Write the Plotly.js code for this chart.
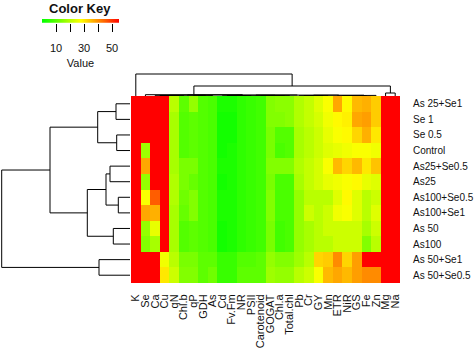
<!DOCTYPE html>
<html><head><meta charset="utf-8">
<script src="https://cdn.plot.ly/plotly-3.0.1.min.js"></script>
<style>html,body{margin:0;padding:0;background:#fff}#chart{width:474px;height:356px}</style>
</head><body><div id="chart"></div>
<script>
// ---- data ----
const columnLabels = ["K","Se","Ca","Cu","qN","Chl.b","qP","GDH","As","Cd","Fv.Fm","NR","PSII","Carotenoid","GOGAT","Chl.a","Total.chl","Pb","Cr","GY","Mn","ETR","NiR","GS","Fe","Zn","Mg","Na"];
const rowLabels = ["As 25+Se1","Se 1","Se 0.5","Control","As25+Se0.5","As25","As100+Se0.5","As100+Se1","As 50","As100","As 50+Se1","As 50+Se0.5"];
const r01 = [55,55,55,55,20,10,16,9,8,3,3,5,6,7,14,15,15,19,21,24,27,37,28,35,36,33,55,55];
const r02 = [55,55,55,55,18,9,10,9,8,2,2,5,6,7,14,14,15,19,21,23,26,28,29,37,38,33,55,55];
const r03 = [55,55,55,55,18,9,10,9,8,2,2,5,6,7,13,9,9,18,20,22,25,27,28,32,36,30,55,55];
const r04 = [55,17,55,55,18,9,10,9,8,2,3,5,6,7,13,8,9,18,20,22,24,25,26,27,27,26,55,55];
const r05 = [55,37,55,55,18,13,13,9,8,3,3,5,6,7,14,14,14,19,21,23,27,35,32,35,30,34,55,55];
const r06 = [55,16,55,55,19,13,11,9,8,2,3,5,6,7,13,8,8,18,21,23,25,26,27,28,25,24,55,55];
const r07 = [55,27,45,55,19,12,14,9,8,3,3,5,6,7,14,8,8,16,20,20,20,24,28,24,20,22,55,55];
const r08 = [55,37,36,55,18,11,14,9,8,3,3,5,6,7,14,8,8,16,22,20,22,26,27,24,20,24,55,55];
const r09 = [55,16,25,55,18,9,10,9,8,2,3,5,6,7,13,7,8,16,18,20,22,22,22,22,18,22,55,55];
const r10 = [55,14,18,55,18,9,10,9,8,2,3,5,6,7,13,7,8,16,18,20,20,22,22,22,14,20,55,55];
const r11 = [55,55,55,26,20,13,13,10,10,6,6,9,9,10,16,14,14,17,20,32,33,40,32,38,55,55,55,55];
const r12 = [55,55,55,30,22,14,14,10,12,6,6,10,10,10,17,16,16,20,22,27,35,37,35,38,40,40,55,55];
const keyTickVals = [10,20,30,40,50];
const keyTickText = ["10","","30","","50"];
// dendrograms (hclust style: negative = leaf, positive = earlier merge)
const rowMerge = [[-1,-2],[-3,-4],[1,2],[-5,-6],[-7,-8],[4,5],[-9,-10],[6,7],[3,8],[-11,-12],[9,10]];
const rowHeight = [14,13.3,32.3,20,11.7,24,16.7,42.7,80,31,128.3];
const colMerge = [[-3,-4],[-5,-6],[1,2],[-7,-8],[4,-9],[3,5],[-10,-11],[-12,-13],[7,8],[-14,-15],[-16,-17],[10,11],[9,12],[-18,-19],[-20,-21],[14,15],[-22,-23],[-24,-25],[17,18],[19,-26],[16,20],[13,21],[6,22],[-2,23],[-27,-28],[24,25],[-1,26]];
const colHeight = [0.3,0.3,0.5,0.3,0.4,0.7,0.2,0.3,0.5,0.3,0.3,0.5,0.7,0.3,0.3,0.5,0.3,0.3,0.5,0.6,0.8,0.9,1.0,1.3,3,10,22];

const zRows = [r01,r02,r03,r04,r05,r06,r07,r08,r09,r10,r11,r12];

function dendroSegments(merge, heights){
  const pos = [], h = [];
  const P = i => i < 0 ? -i : pos[i-1];
  const H = i => i < 0 ? 0 : h[i-1];
  const a = [], b = [];
  merge.forEach((m, k) => {
    const p1 = P(m[0]), p2 = P(m[1]), h1 = H(m[0]), h2 = H(m[1]), hh = heights[k];
    a.push(p1, p1, p2, p2, null);
    b.push(h1, hh, hh, h2, null);
    pos.push((p1 + p2) / 2); h.push(hh);
  });
  return {pos: a, hgt: b};
}
const rowD = dendroSegments(rowMerge, rowHeight);
const colD = dendroSegments(colMerge, colHeight);

const W = 474, H = 356;
const fx = p => p / W, fy = p => 1 - p / H;
const font = "Liberation Sans, Arial, sans-serif";
const cs = [[0,'#00FF00'],[0.5,'#FFFF00'],[1,'#FF0000']];
const colIdx = columnLabels.map((_, i) => i + 1);
const rowIdx = rowLabels.map((_, i) => i + 1);

const traces = [
  {type:'heatmap', x: colIdx, y: rowIdx, z: zRows, colorscale: cs, zmin: 0, zmax: 55,
   showscale: false, xaxis:'x', yaxis:'y', hoverinfo:'skip'},
  {type:'scatter', mode:'lines', x: rowD.hgt, y: rowD.pos, xaxis:'x2', yaxis:'y',
   line:{color:'#000', width:1}, hoverinfo:'skip', showlegend:false},
  {type:'scatter', mode:'lines', x: colD.pos, y: colD.hgt, xaxis:'x', yaxis:'y2',
   line:{color:'#000', width:1}, hoverinfo:'skip', showlegend:false},
  {type:'heatmap', x:[0,55], y:[-0.5,0.5], z:[[0,55],[0,55]], zsmooth:'best', colorscale: cs,
   zmin:0, zmax:55, showscale:false, xaxis:'x3', yaxis:'y3', hoverinfo:'skip'}
];

const layout = {
  width: W, height: H, margin:{l:0,r:0,t:0,b:0}, paper_bgcolor:'#fff', plot_bgcolor:'#fff',
  showlegend:false,
  font:{family: font, color:'#111'},
  xaxis:{domain:[fx(131), fx(400)], range:[0.5, 28.5], anchor:'y', tickmode:'array', tickvals: colIdx,
    ticktext: columnLabels, tickangle:-90, ticks:'outside', ticklen:6, tickcolor:'rgba(0,0,0,0)',
    showgrid:false, zeroline:false, showline:false, tickfont:{size:11, family: font}},
  yaxis:{domain:[fy(283), fy(96)], range:[12.5, 0.5], anchor:'x', side:'right', tickmode:'array',
    tickvals: rowIdx, ticktext: rowLabels, ticks:'outside', ticklen:10, tickcolor:'rgba(0,0,0,0)',
    showgrid:false, zeroline:false, showline:false, tickfont:{size:10, family: font}},
  xaxis2:{domain:[0, fx(130)], range:[130, 0], anchor:'y', visible:false, showgrid:false, zeroline:false},
  yaxis2:{domain:[fy(96), fy(60)], range:[0, 36], anchor:'x', visible:false, showgrid:false, zeroline:false},
  xaxis3:{domain:[fx(42), fx(119)], range:[0, 55], anchor:'y3', tickmode:'array', tickvals: keyTickVals,
    ticktext: keyTickText, ticks:'outside', ticklen:8, tickwidth:1, tickcolor:'#000', showgrid:false,
    zeroline:false, showline:false, ticklabelstandoff:7, tickfont:{size:11, family: font},
    title:{text:'Value', font:{size:11, family: font}, standoff:6}},
  yaxis3:{domain:[fy(22.7), fy(19)], range:[-0.5, 0.5], anchor:'x3', visible:false},
  annotations:[{text:'<b>Color Key</b>', x: fx(80), y: fy(8), xref:'paper', yref:'paper',
    xanchor:'center', yanchor:'middle',
    showarrow:false, font:{size:13, family: font, color:'#111'}}]
};
Plotly.newPlot('chart', traces, layout, {displayModeBar:false, staticPlot:true});
</script></body></html>
